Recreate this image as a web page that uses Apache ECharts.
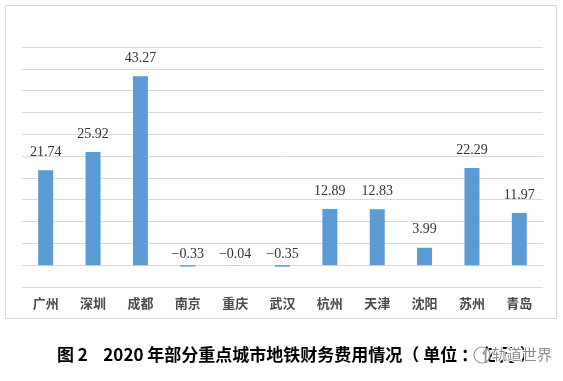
<!DOCTYPE html>
<html><head><meta charset="utf-8">
<script src="https://cdn.jsdelivr.net/npm/echarts@6/dist/echarts.min.js"></script>
<style>html,body{margin:0;padding:0;background:#fff}#c{width:563px;height:381px}</style>
</head><body><div id="c"></div>
<script>
const categories = ['广州','深圳','成都','南京','重庆','武汉','杭州','天津','沈阳','苏州','青岛'];
const values = [21.74, 25.92, 43.27, -0.33, -0.04, -0.35, 12.89, 12.83, 3.99, 22.29, 11.97];
const titleText = '图 2    2020 年部分重点城市地铁财务费用情况（ 单位 ： 亿元 ）';
const watermark = '轨道世界';

const chart = echarts.init(document.getElementById('c'));
const data = values.map(v => ({
  value: v,
  label: { distance: v < 0 ? 4 : 11 }
}));
chart.setOption({
  animation: false,
  grid: { left: 22, right: 20, top: 47, bottom: 94 },
  xAxis: {
    type: 'category', data: categories,
    axisLine: { onZero: true, lineStyle: { color: '#d9d9d9' } },
    axisTick: { show: false },
    axisLabel: { color: '#4a4a4a', fontWeight: 'bold', fontSize: 13, margin: 10,
      fontFamily: 'Noto Sans CJK SC' }
  },
  yAxis: {
    type: 'value', min: -5, max: 50, interval: 5,
    axisLabel: { show: false }, axisLine: { show: false }, axisTick: { show: false },
    splitLine: { lineStyle: { color: '#d9d9d9', width: 1 } }
  },
  series: [{
    type: 'bar', data: data, barWidth: 15,
    itemStyle: { color: '#5B9BD5' },
    label: { show: true, position: 'top', color: '#333333', fontSize: 14,
      fontFamily: 'Liberation Serif',
      formatter: p => p.value.toFixed(2).replace('-', '−') }
  }],
  graphic: [
    { type: 'rect', shape: { x: 5.5, y: 5.5, width: 551, height: 313 },
      style: { fill: 'none', stroke: '#d9d9d9', lineWidth: 1 }, silent: true },
    { type: 'text', left: 57, top: 346,
      style: { text: titleText, font: 'bold 17px "Noto Sans CJK SC"', fill: '#000' } },
    { type: 'circle', shape: { cx: 482, cy: 355, r: 8 },
      style: { fill: 'rgba(255,255,255,0.6)', stroke: '#9a9a9a', lineWidth: 1.2 } },
    { type: 'text', left: 491, top: 346,
      style: { text: watermark, font: '15px "Noto Sans CJK SC"', fill: '#8c8c8c',
        stroke: '#fff', lineWidth: 2 } }
  ]
});
</script></body></html>
